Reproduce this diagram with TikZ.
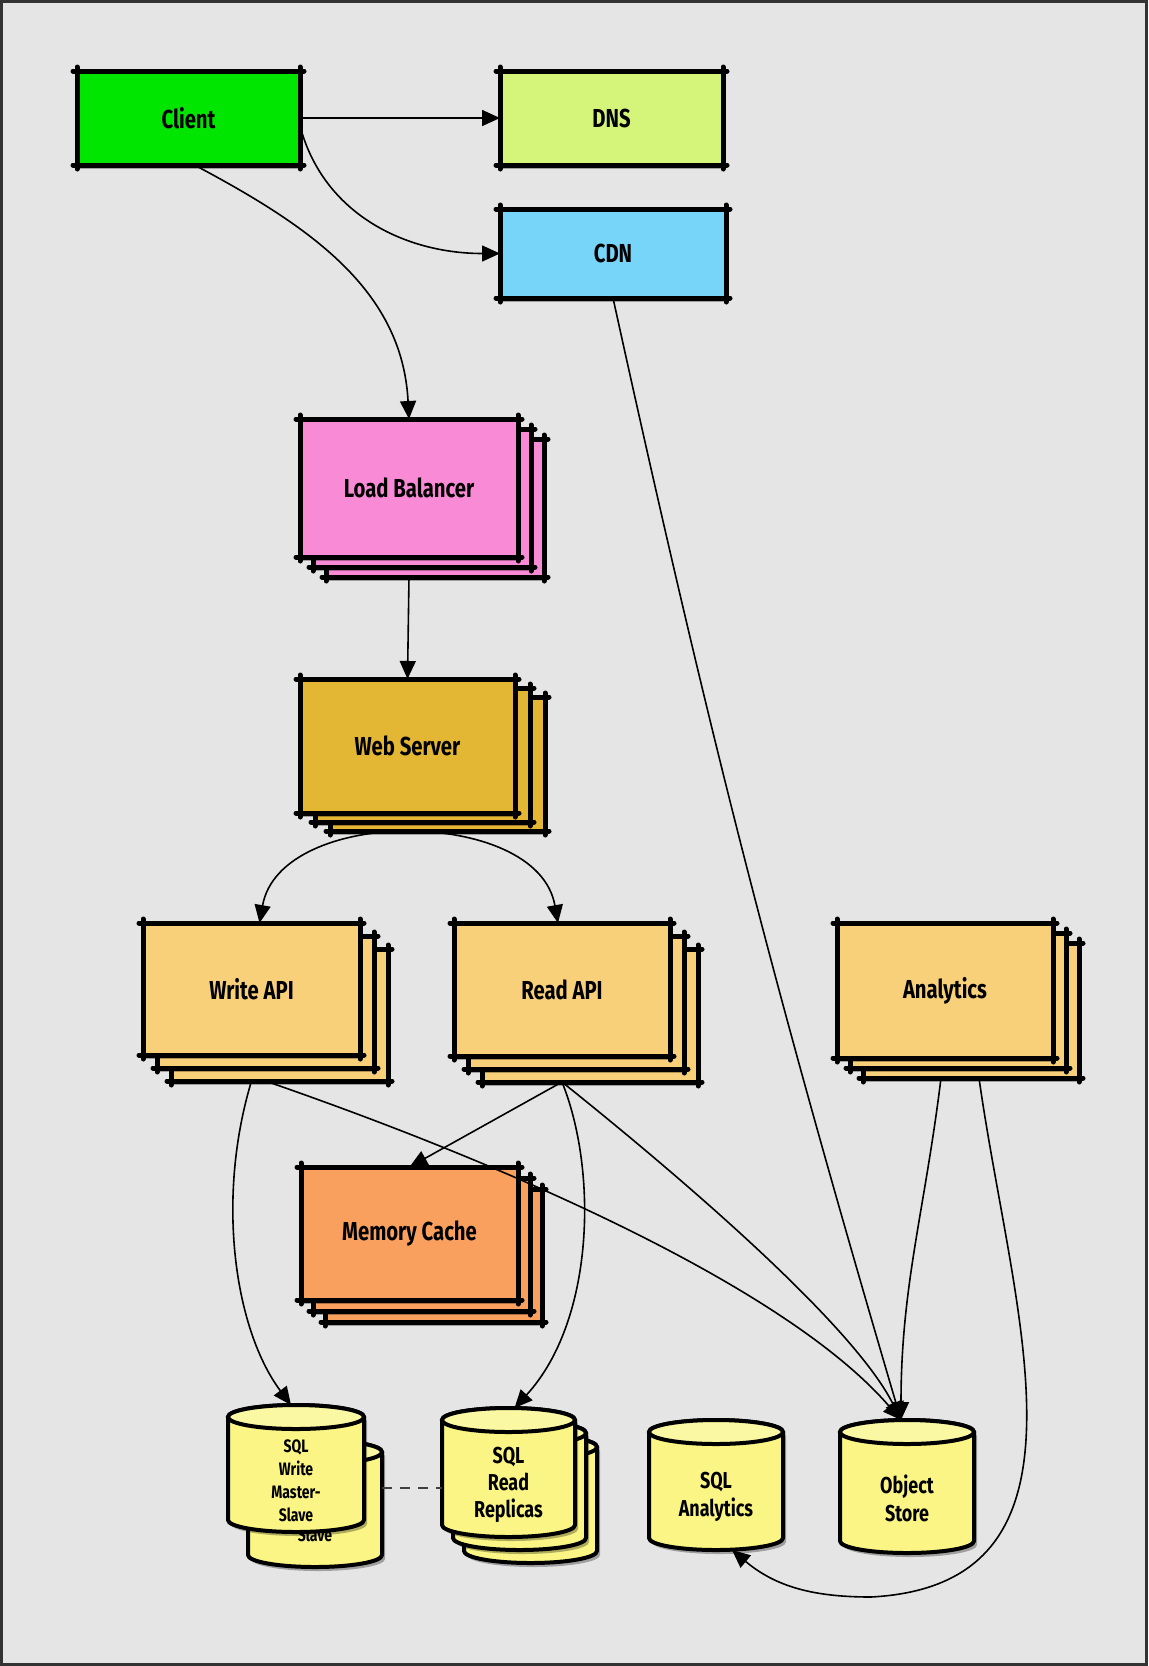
\documentclass[tikz,border=0pt]{standalone}
\usepackage{fontspec}
\setmainfont{Fira Sans}
\newfontfamily\hand[FakeStretch=0.78]{Fira Sans}
\usetikzlibrary{arrows.meta,shadows}
\definecolor{bg}{HTML}{E5E5E5}
\definecolor{cclient}{HTML}{00E600}
\definecolor{cdns}{HTML}{D4F57A}
\definecolor{ccdn}{HTML}{76D5F8}
\definecolor{clb}{HTML}{F98AD6}
\definecolor{cws}{HTML}{E3B733}
\definecolor{capi}{HTML}{F8D07A}
\definecolor{cmc}{HTML}{F9A05E}
\definecolor{cdb}{HTML}{FAF584}
\tikzset{
  sh/.style={drop shadow={shadow xshift=1.5pt, shadow yshift=-2pt, opacity=0.3, fill=black}},
  skbox/.style={draw=black, line width=2.5pt, inner sep=0pt, outer sep=0pt,
    font=\hand\bfseries\fontsize{13}{15}\selectfont, sh},
  skedge/.style={line width=2.5pt, line cap=round},
  arr/.style={-{Triangle[length=9pt,width=8pt]}, line width=0.8pt, draw=black},
  cylbody/.style={fill=cdb, draw=black, line width=2pt, line join=round, sh},
  cyltop/.style={fill=cdb!75!white, draw=black, line width=2pt},
  dashlink/.style={line width=1pt, draw=black!75, dash pattern=on 5pt off 4pt},
}
% name, x1, y1, x2, y2 (pixels, y downwards), fill, text
\newcommand\skrect[7]{%
  \pgfmathsetmacro\skw{((#4)-(#2))*0.5}%
  \pgfmathsetmacro\skh{((#5)-(#3))*0.5}%
  \node[skbox, fill=#6, minimum width=\skw pt, minimum height=\skh pt] (#1)
    at ({((#2)+(#4))/2},{-((#3)+(#5))/2}) {#7};
  \draw[skedge] ([xshift=-2pt]#1.north west) -- ([xshift=2pt]#1.north east)
    ([xshift=-2pt]#1.south west) -- ([xshift=2pt]#1.south east)
    ([yshift=2pt]#1.north west) -- ([yshift=-2pt]#1.south west)
    ([yshift=2pt]#1.north east) -- ([yshift=-2pt]#1.south east);
}
% name, x1, y1, x2, y2, fill, text, dx, dy
\newcommand\skstack[9]{%
  \skrect{#1b2}{(#2)+2*(#8)}{(#3)+2*(#9)}{(#4)+2*(#8)}{(#5)+2*(#9)}{#6}{}
  \skrect{#1b1}{(#2)+(#8)}{(#3)+(#9)}{(#4)+(#8)}{(#5)+(#9)}{#6}{}
  \skrect{#1}{#2}{#3}{#4}{#5}{#6}{#7}
}
% name, x1, y1, x2, y2, text, font size
\newcommand\skcyl[7]{%
  \pgfmathsetmacro\cx{((#2)+(#4))/2}%
  \pgfmathsetmacro\crx{((#4)-(#2))/4}%
  \pgfmathsetmacro\ctop{-(#3)-12}%
  \pgfmathsetmacro\cbot{-(#5)+12}%
  \path[cylbody] (#2,\ctop) -- (#2,\cbot)
    arc[start angle=180, end angle=360, x radius=\crx pt, y radius=6pt]
    -- (#4,\ctop)
    arc[start angle=0, end angle=180, x radius=\crx pt, y radius=6pt] -- cycle;
  \draw[cyltop] (\cx,\ctop) ellipse[x radius=\crx pt, y radius=6pt];
  \pgfmathsetmacro\skw{((#4)-(#2))*0.5}%
  \pgfmathsetmacro\skh{((#5)-(#3))*0.5}%
  \node[inner sep=0pt, outer sep=0pt, minimum width=\skw pt, minimum height=\skh pt] (#1)
    at (\cx,{-((#3)+(#5))/2}) {};
  \node[font=\hand\bfseries#7\selectfont, align=center, inner sep=0pt]
    at (\cx,{-((#3)+24+(#5))/2}) {#6};
}
\begin{document}
\begin{tikzpicture}[x=0.5pt,y=0.5pt]
\useasboundingbox (0,0) rectangle (1148,-1666);
\fill[bg] (0,0) rectangle (1148,-1666);
\draw[line width=1.5pt, draw=black!80] (1.5,-1.5) rectangle (1146.5,-1664.5);

% boxes
\skrect{client}{77}{71}{300}{165}{cclient}{Client}
\skrect{dns}{500}{71}{723}{165}{cdns}{DNS}
\skrect{cdn}{500}{209}{726}{298}{ccdn}{CDN}
\skstack{lb}{300}{419}{518}{557}{clb}{Load Balancer}{13}{10}
\skstack{ws}{300}{679}{515}{813}{cws}{Web Server}{15}{9}
\skstack{wapi}{143}{923}{360}{1055}{capi}{Write API}{14}{13}
\skstack{rapi}{454}{923}{670}{1056}{capi}{Read API}{14}{13}
\skstack{an}{837}{923}{1053}{1058}{capi}{Analytics}{13}{10}
\skstack{mc}{301}{1167}{518}{1300}{cmc}{Memory Cache}{12}{11}

% databases
\skcyl{sqlwb}{248}{1440}{382}{1567}{}{\fontsize{9}{11.5}}
\node[font=\hand\bfseries\fontsize{9}{11.5}\selectfont, inner sep=0pt] (sqlwbtext) at (315,-1535) {Slave};
\skcyl{sqlw}{228}{1405}{364}{1532}{SQL\\Write\\Master-\\Slave}{\fontsize{9}{11.5}}
\skcyl{sqlrb2}{464}{1435}{597}{1563}{}{\fontsize{11.5}{13.5}}
\skcyl{sqlrb1}{453}{1421}{586}{1550}{}{\fontsize{11.5}{13.5}}
\skcyl{sqlr}{442}{1408}{575}{1537}{SQL\\Read\\Replicas}{\fontsize{11.5}{13.5}}
\skcyl{sqla}{649}{1420}{783}{1550}{SQL\\Analytics}{\fontsize{11.5}{14}}
\skcyl{osto}{840}{1420}{974}{1553}{Object\\Store}{\fontsize{11.5}{14}}

% connectors
\draw[arr] (client.east) -- (dns.west);
\draw[arr] ([yshift=-4pt]client.east) to[out=-75,in=180] (cdn.west);
\draw[arr] ([xshift=3pt]client.south) to[out=-28,in=93] (lb.north);
\draw[arr] (lb.south |- lbb2.south) -- (ws.north);
\draw[arr] (ws.south |- wsb2.south) to[out=180,in=80] ([xshift=4pt]wapi.north);
\draw[arr] (ws.south |- wsb2.south) to[out=0,in=100] ([xshift=-2pt]rapi.north);
\draw[arr] (wapi.south |- wapib2.south) .. controls +(-36,-119) and +(-56,75) .. ([xshift=-2.5pt]sqlw.north);
\draw[arr] ([xshift=7pt]wapi.south |- wapib2.south) .. controls +(260,-90) and +(-110,128) .. ([xshift=-3pt]osto.north);
\draw[arr] (rapi.south |- rapib2.south) -- (mc.north);
\draw[arr] (rapi.south |- rapib2.south) .. controls +(36,-89) and +(80,87) .. ([xshift=3pt]sqlr.north);
\draw[arr] (rapi.south |- rapib2.south) .. controls +(100,-80) and +(-50,100) .. ([xshift=-3pt]osto.north);
\draw[arr] (cdn.south) to[bend right=2] ([xshift=-3pt]osto.north);
\draw[arr] ([xshift=-2pt]an.south |- anb2.south) to[out=-97,in=90] ([xshift=-3pt]osto.north);
\coordinate (anloop) at (871,-1597);
\draw[arr] ([xshift=17pt]an.south |- anb2.south) to[out=-82,in=3,looseness=1.15] (anloop)
  to[out=180,in=-40] ([xshift=8pt]sqla.south);
\draw[dashlink] ([yshift=8pt]sqlwb.east) -- ([yshift=8pt]sqlwb.east -| sqlr.west);
\end{tikzpicture}
\end{document}
